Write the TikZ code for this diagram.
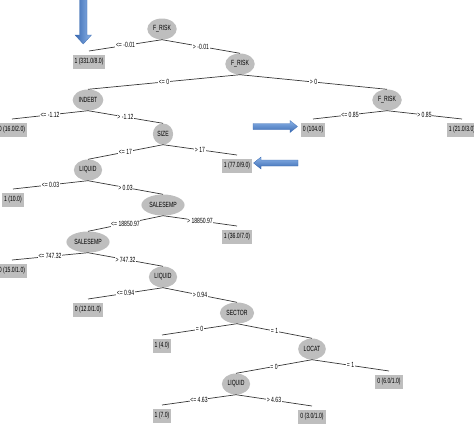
\documentclass[tikz,border=0pt]{standalone}
\usepackage{fontspec}
\newfontfamily\treefont[FakeStretch=0.68]{Liberation Sans}
\usepackage{tikz}
\usetikzlibrary{positioning,shapes.geometric}
\definecolor{nodegray}{RGB}{190,190,190}
\definecolor{linegray}{RGB}{55,55,55}
\definecolor{arrowdark}{RGB}{58,106,178}
\definecolor{arrowlight}{RGB}{140,180,232}

\begin{document}
\begin{tikzpicture}[x=1pt,y=-1pt,font=\treefont\fontsize{7.5}{8.5}\selectfont]
\tikzstyle{split}=[ellipse, fill=nodegray, inner xsep=1.5pt, inner ysep=1pt, minimum height=21pt, on grid]
\tikzstyle{leaf}=[rectangle, fill=nodegray, inner sep=2pt, minimum height=14pt, outer ysep=4pt, on grid]
\tikzstyle{connect}=[draw=linegray, line width=0.7pt]
\tikzstyle{cond}=[fill=white, inner sep=0.6pt, midway]
\tikzstyle{hmarker}=[top color=arrowlight, bottom color=arrowdark, draw=arrowdark, line width=0.3pt]
\tikzstyle{vmarker}=[left color=arrowdark, right color=arrowlight, draw=arrowdark, line width=0.3pt]
  \useasboundingbox (0,0) rectangle (474,426);
  % root
  \node[split] (frisk1) at (162,29) {F\_RISK};
  \node[leaf] (l1) [below left=33pt and 73pt of frisk1] {1 (331.0/8.0)};
  \node[split] (frisk2) [below right=35pt and 78pt of frisk1] {F\_RISK};
  % indebt side
  \node[split] (indebt) [below left=36pt and 152pt of frisk2] {INDEBT};
  \node[split] (frisk3) [below right=36pt and 147pt of frisk2] {F\_RISK};
  \node[leaf] (l2) [below left=30pt and 74pt of frisk3] {0 (104.0)};
  \node[leaf] (l3) [below right=30pt and 75pt of frisk3] {1 (21.0/3.0)};
  \node[leaf] (l4) [below left=30pt and 76pt of indebt] {0 (16.0/2.0)};
  \node[split] (size) [below right=34pt and 75pt of indebt] {SIZE};
  \node[leaf] (l5) [below right=32pt and 74pt of size] {1 (77.0/9.0)};
  % liquid
  \node[split] (liquid1) [below left=36pt and 75pt of size] {LIQUID};
  \node[leaf] (l6) [below left=30pt and 75pt of liquid1] {1 (10.0)};
  \node[split] (salesemp1) [below right=35pt and 75pt of liquid1] {SALESEMP};
  \node[leaf] (l7) [below right=32pt and 74pt of salesemp1] {1 (36.0/7.0)};
  \node[split] (salesemp2) [below left=37pt and 75pt of salesemp1] {SALESEMP};
  \node[leaf] (l8) [below left=29pt and 76pt of salesemp2] {0 (15.0/1.0)};
  \node[split] (liquid2) [below right=35pt and 75pt of salesemp2] {LIQUID};
  \node[leaf] (l9) [below left=33pt and 75pt of liquid2] {0 (12.0/1.0)};
  % sector, locat
  \node[split] (sector) [below right=36pt and 74pt of liquid2] {SECTOR};
  \node[leaf] (l10) [below left=33pt and 75pt of sector] {1 (4.0)};
  \node[split] (locat) [below right=36pt and 75pt of sector] {LOCAT};
  \node[leaf] (l11) [below right=33pt and 77pt of locat] {0 (6.0/1.0)};
  \node[split] (liquid3) [below left=35pt and 76pt of locat] {LIQUID};
  \node[leaf] (l12) [below left=32pt and 74pt of liquid3] {1 (7.0)};
  \node[leaf] (l13) [below right=33pt and 76pt of liquid3] {0 (3.0/1.0)};
  \path (frisk1.south) edge [connect] node[cond] {<= -0.01} (l1.north)
        (frisk1.south) edge [connect] node[cond] {> -0.01} (frisk2.north)
        (frisk2.south) edge [connect] node[cond] {<= 0} (indebt.north)
        (frisk2.south) edge [connect] node[cond] {> 0} (frisk3.north)
        (frisk3.south) edge [connect] node[cond] {<= 0.85} (l2.north)
        (frisk3.south) edge [connect] node[cond] {> 0.85} (l3.north)
        (indebt.south) edge [connect] node[cond] {<= -1.12} (l4.north)
        (indebt.south) edge [connect] node[cond] {> -1.12} (size.north)
        (size.south) edge [connect] node[cond] {<= 17} (liquid1.north)
        (size.south) edge [connect] node[cond] {> 17} (l5.north)
        (liquid1.south) edge [connect] node[cond] {<= 0.03} (l6.north)
        (liquid1.south) edge [connect] node[cond] {> 0.03} (salesemp1.north)
        (salesemp1.south) edge [connect] node[cond] {<= 18850.97} (salesemp2.north)
        (salesemp1.south) edge [connect] node[cond] {> 18850.97} (l7.north)
        (salesemp2.south) edge [connect] node[cond] {<= 747.32} (l8.north)
        (salesemp2.south) edge [connect] node[cond] {> 747.32} (liquid2.north)
        (liquid2.south) edge [connect] node[cond] {<= 0.94} (l9.north)
        (liquid2.south) edge [connect] node[cond] {> 0.94} (sector.north)
        (sector.south) edge [connect] node[cond] {= 0} (l10.north)
        (sector.south) edge [connect] node[cond] {= 1} (locat.north)
        (locat.south) edge [connect] node[cond] {= 0} (liquid3.north)
        (locat.south) edge [connect] node[cond] {= 1} (l11.north)
        (liquid3.south) edge [connect] node[cond] {<= 4.63} (l12.north)
        (liquid3.south) edge [connect] node[cond] {> 4.63} (l13.north);
  % blue markers
  \path[vmarker] (79.5,-2) -- (87,-2) -- (87,35) -- (91.5,35) -- (83.25,44) -- (75,35) -- (79.5,35) -- cycle;
  \path[hmarker] (253,123.5) -- (290,123.5) -- (290,120.5) -- (297.5,126.5) -- (290,132.5) -- (290,129.5) -- (253,129.5) -- cycle;
  \path[hmarker] (298,160) -- (261,160) -- (261,157) -- (253.5,163) -- (261,169) -- (261,166) -- (298,166) -- cycle;
\end{tikzpicture}
\end{document}
